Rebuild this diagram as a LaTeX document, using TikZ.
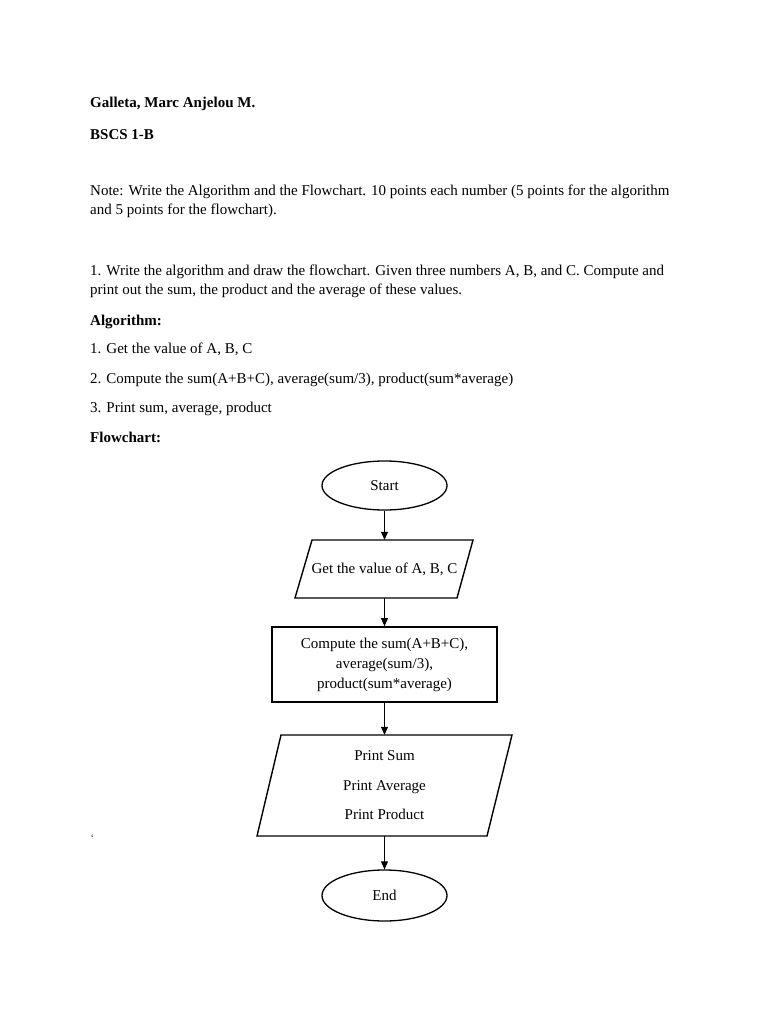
\documentclass[tikz,border=0pt]{standalone}
\usepackage{fontspec}
\setmainfont{Liberation Serif}
\usetikzlibrary{shapes.geometric,arrows.meta}
\begin{document}
\begin{tikzpicture}[x=1pt,y=-1pt,
 doc/.style={anchor=base west,inner sep=0pt,font=\fontsize{15}{17}\selectfont},
 docb/.style={anchor=base west,inner sep=0pt,font=\fontsize{15}{17}\selectfont\bfseries},
 term/.style={ellipse,draw,line width=1.3pt,minimum width=125pt,minimum height=49pt,inner sep=0pt,font=\fontsize{15}{17}\selectfont},
 lbl/.style={inner sep=0pt,align=center,font=\fontsize{15}{17}\selectfont},
 arr/.style={line width=0.8pt,-{Triangle[length=8pt,width=7pt]}},
 shp/.style={draw,line width=1.4pt,line join=miter}]
\fill[white] (0,0) rectangle (768,1024);
% header text
\node[docb] (name) at (90,107.5) {Galleta, Marc Anjelou M.};
\node[docb] (sec) at (90,139.5) {BSCS 1-B};
\node[doc] (note1) at (90,195.5) {Note: Write the Algorithm and the Flowchart. 10 points each number (5 points for the algorithm};
\node[doc] (note2) at (90,214.5) {and 5 points for the flowchart).};
\node[doc] (q1a) at (90,275.5) {1. Write the algorithm and draw the flowchart. Given three numbers A, B, and C. Compute and};
\node[doc] (q1b) at (90,294.5) {print out the sum, the product and the average of these values.};
\node[docb] (alg) at (90,325.5) {Algorithm:};
\node[doc] (s1) at (90,353.5) {1. Get the value of A, B, C};
\node[doc] (s2) at (90,383.5) {2. Compute the sum(A+B+C), average(sum/3), product(sum*average)};
\node[doc] (s3) at (90,412.5) {3. Print sum, average, product};
\node[docb] (fc) at (90,442.5) {Flowchart:};
\node[doc,font=\fontsize{10}{10}\selectfont] (tick) at (90.5,841) {‘};
% flowchart
\node[term] (start) at (384.5,485.5) {Start};
\draw[shp] (312,540) -- (473,540) -- (457,598) -- (295,598) -- cycle;
\node[lbl,minimum width=170pt,minimum height=58pt] (get) at (384.5,569) {Get the value of A, B, C};
\node[lbl,draw,line width=1.8pt,minimum width=225pt,minimum height=75pt] (comp) at (384.5,664.5) {Compute the sum(A+B+C),\\[3pt]average(sum/3),\\[3pt]product(sum*average)};
\draw[shp] (281,735) -- (512,735) -- (487,836) -- (257,836) -- cycle;
\node[lbl,minimum width=200pt,minimum height=101pt] (print) at (384.5,785.5) {Print Sum\\[12.5pt]Print Average\\[12.5pt]Print Product};
\node[term,minimum height=51pt] (end) at (384.5,895.5) {End};
% connectors
\draw[arr] (start.south) -- (get.north);
\draw[arr] (get.south) -- (comp.north);
\draw[arr] (comp.south) -- (print.north);
\draw[arr] (print.south) -- (end.north);
\end{tikzpicture}
\end{document}
